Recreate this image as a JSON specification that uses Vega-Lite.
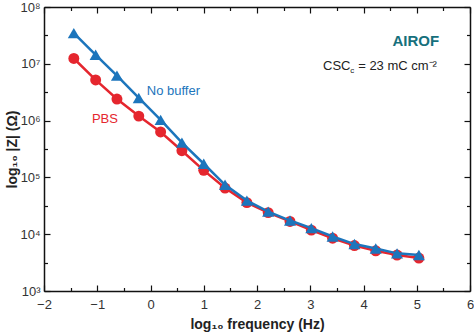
{
  "$schema": "https://vega.github.io/schema/vega-lite/v6.json",
  "width": 426,
  "height": 284,
  "autosize": "none",
  "padding": {"left": 44, "top": 7, "right": 4, "bottom": 43},
  "background": "white",
  "config": {
    "view": {"stroke": null},
    "font": "Liberation Sans",
    "axis": {
      "grid": false,
      "domainColor": "#111",
      "domainWidth": 1.5,
      "tickColor": "#111",
      "tickWidth": 1.2,
      "labelFont": "Liberation Sans",
      "labelFontSize": 13,
      "labelColor": "#333",
      "titleFont": "Liberation Sans",
      "titleFontSize": 14,
      "titleFontWeight": "bold",
      "titleColor": "#222"
    }
  },
  "datasets": {
    "z": [
      {"f": -1.44, "series": "PBS", "z": 12400000},
      {"f": -1.03, "series": "PBS", "z": 5200000},
      {"f": -0.63, "series": "PBS", "z": 2400000},
      {"f": -0.22, "series": "PBS", "z": 1200000},
      {"f": 0.19, "series": "PBS", "z": 630000},
      {"f": 0.59, "series": "PBS", "z": 295000},
      {"f": 1.0, "series": "PBS", "z": 133000},
      {"f": 1.4, "series": "PBS", "z": 65000},
      {"f": 1.81, "series": "PBS", "z": 36000},
      {"f": 2.21, "series": "PBS", "z": 24000},
      {"f": 2.62, "series": "PBS", "z": 16800},
      {"f": 3.02, "series": "PBS", "z": 11800},
      {"f": 3.42, "series": "PBS", "z": 8500},
      {"f": 3.83, "series": "PBS", "z": 6300},
      {"f": 4.23, "series": "PBS", "z": 5100},
      {"f": 4.63, "series": "PBS", "z": 4300},
      {"f": 5.04, "series": "PBS", "z": 3800},
      {"f": -1.44, "series": "No buffer", "z": 34700000},
      {"f": -1.03, "series": "No buffer", "z": 14400000},
      {"f": -0.63, "series": "No buffer", "z": 6200000},
      {"f": -0.22, "series": "No buffer", "z": 2500000},
      {"f": 0.19, "series": "No buffer", "z": 1030000},
      {"f": 0.59, "series": "No buffer", "z": 410000},
      {"f": 1.0, "series": "No buffer", "z": 174000},
      {"f": 1.4, "series": "No buffer", "z": 74000},
      {"f": 1.81, "series": "No buffer", "z": 39000},
      {"f": 2.21, "series": "No buffer", "z": 25000},
      {"f": 2.62, "series": "No buffer", "z": 17400},
      {"f": 3.02, "series": "No buffer", "z": 12800},
      {"f": 3.42, "series": "No buffer", "z": 9100},
      {"f": 3.83, "series": "No buffer", "z": 6700},
      {"f": 4.23, "series": "No buffer", "z": 5600},
      {"f": 4.63, "series": "No buffer", "z": 4600},
      {"f": 5.04, "series": "No buffer", "z": 4300}
    ],
    "labels": [
      {"x": -0.07, "y": 3300000, "label": "No buffer", "series": "No buffer"},
      {"x": -1.1, "y": 1070000, "label": "PBS", "series": "PBS"}
    ],
    "csc": [
      {"x": 3.24, "y": 9100000, "label": "CSC"},
      {"x": 3.9, "y": 9100000, "label": "= 23 mC cm⁻²"}
    ],
    "cscsub": [
      {"x": 3.75, "y": 9100000, "label": "c"}
    ],
    "title": [
      {"x": 5.42, "y": 25000000, "label": "AIROF"}
    ]
  },
  "layer": [
    {
      "data": {"name": "z"},
      "transform": [{"filter": "datum.series === 'PBS'"}],
      "mark": {"type": "line", "color": "#e5262e", "strokeWidth": 2.5},
      "encoding": {
        "x": {
          "field": "f", "type": "quantitative",
          "scale": {"domain": [-2, 6], "nice": false, "zero": false},
          "axis": {
            "orient": "bottom",
            "title": "log₁₀ frequency (Hz)",
            "values": [-2, -1.5, -1, -0.5, 0, 0.5, 1, 1.5, 2, 2.5, 3, 3.5, 4, 4.5, 5, 5.5, 6],
            "labelExpr": "datum.value % 1 != 0 ? '' : (datum.value < 0 ? '−' + abs(datum.value) : '' + datum.value)",
            "tickSize": {"condition": {"test": "datum.value % 1 != 0", "value": -3.5}, "value": -6},
            "labelPadding": 13,
            "labelFlush": false,
            "labelOverlap": false,
            "titlePadding": 4
          }
        },
        "y": {
          "field": "z", "type": "quantitative",
          "scale": {"type": "log", "domain": [1000, 100000000], "nice": false},
          "axis": {
            "orient": "left",
            "title": "log₁₀ |Z| (Ω)",
            "values": [1000, 3162.28, 10000, 31622.8, 100000, 316228, 1000000, 3162280, 10000000, 31622800, 100000000],
            "labelExpr": "abs(log(datum.value)/LN10 - round(log(datum.value)/LN10)) > 0.1 ? '' : '10' + ['⁰','¹','²','³','⁴','⁵','⁶','⁷','⁸'][round(log(datum.value)/LN10)]",
            "tickSize": {"condition": {"test": "abs(log(datum.value)/LN10 - round(log(datum.value)/LN10)) > 0.1", "value": -3.5}, "value": -6},
            "labelPadding": 10,
            "labelFlush": false,
            "labelOverlap": false,
            "titlePadding": 0
          }
        }
      }
    },
    {
      "data": {"name": "z"},
      "mark": {"type": "point", "opacity": 0},
      "encoding": {
        "x": {
          "field": "f", "type": "quantitative",
          "axis": {
            "orient": "top",
            "title": null,
            "labels": false,
            "values": [-2, -1.5, -1, -0.5, 0, 0.5, 1, 1.5, 2, 2.5, 3, 3.5, 4, 4.5, 5, 5.5, 6],
            "tickSize": {"condition": {"test": "datum.value % 1 != 0", "value": -3.5}, "value": -6}
          }
        },
        "y": {
          "field": "z", "type": "quantitative",
          "axis": {
            "orient": "right",
            "title": null,
            "labels": false,
            "values": [1000, 3162.28, 10000, 31622.8, 100000, 316228, 1000000, 3162280, 10000000, 31622800, 100000000],
            "tickSize": {"condition": {"test": "abs(log(datum.value)/LN10 - round(log(datum.value)/LN10)) > 0.1", "value": -3.5}, "value": -6}
          }
        }
      }
    },
    {
      "data": {"name": "z"},
      "transform": [{"filter": "datum.series === 'PBS'"}],
      "mark": {"type": "point", "shape": "circle", "filled": true, "opacity": 1, "color": "#e5262e", "size": 120},
      "encoding": {
        "x": {"field": "f", "type": "quantitative", "axis": null},
        "y": {"field": "z", "type": "quantitative", "axis": null}
      }
    },
    {
      "data": {"name": "z"},
      "transform": [{"filter": "datum.series === 'No buffer'"}],
      "mark": {"type": "line", "color": "#1c75bc", "strokeWidth": 2.5},
      "encoding": {
        "x": {"field": "f", "type": "quantitative", "axis": null},
        "y": {"field": "z", "type": "quantitative", "axis": null}
      }
    },
    {
      "data": {"name": "z"},
      "transform": [{"filter": "datum.series === 'No buffer'"}],
      "mark": {"type": "point", "shape": "triangle-up", "filled": true, "opacity": 1, "color": "#1c75bc", "size": 145},
      "encoding": {
        "x": {"field": "f", "type": "quantitative", "axis": null},
        "y": {"field": "z", "type": "quantitative", "axis": null}
      }
    },
    {
      "data": {"name": "labels"},
      "mark": {"type": "text", "align": "left", "baseline": "middle", "fontSize": 13, "font": "Liberation Sans"},
      "encoding": {
        "x": {"field": "x", "type": "quantitative", "axis": null},
        "y": {"field": "y", "type": "quantitative", "axis": null},
        "text": {"field": "label"},
        "color": {"field": "series", "type": "nominal", "scale": {"domain": ["No buffer", "PBS"], "range": ["#1c75bc", "#e5262e"]}, "legend": null}
      }
    },
    {
      "data": {"name": "csc"},
      "mark": {"type": "text", "align": "left", "baseline": "middle", "fontSize": 13, "font": "Liberation Sans", "color": "#222"},
      "encoding": {
        "x": {"field": "x", "type": "quantitative", "axis": null},
        "y": {"field": "y", "type": "quantitative", "axis": null},
        "text": {"field": "label"}
      }
    },
    {
      "data": {"name": "cscsub"},
      "mark": {"type": "text", "align": "left", "baseline": "middle", "fontSize": 8, "dy": 5, "font": "Liberation Sans", "color": "#222"},
      "encoding": {
        "x": {"field": "x", "type": "quantitative", "axis": null},
        "y": {"field": "y", "type": "quantitative", "axis": null},
        "text": {"field": "label"}
      }
    },
    {
      "data": {"name": "title"},
      "mark": {"type": "text", "align": "right", "baseline": "middle", "fontSize": 15, "fontWeight": "bold", "font": "Liberation Sans", "color": "#16707c"},
      "encoding": {
        "x": {"field": "x", "type": "quantitative", "axis": null},
        "y": {"field": "y", "type": "quantitative", "axis": null},
        "text": {"field": "label"}
      }
    }
  ],
  "resolve": {"axis": {"x": "independent", "y": "independent"}}
}
